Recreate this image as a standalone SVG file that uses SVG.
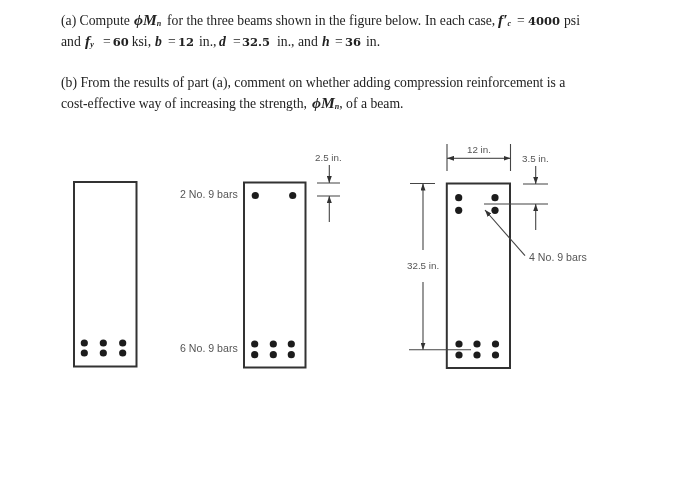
<svg xmlns="http://www.w3.org/2000/svg" width="676" height="497" viewBox="0 0 676 497">
<defs>
<filter id="soft" x="-5%" y="-5%" width="110%" height="110%"><feGaussianBlur stdDeviation="0.4"/></filter>
<marker id="ah" viewBox="0 0 7 5" refX="7" refY="2.5" markerWidth="7" markerHeight="5" orient="auto" markerUnits="userSpaceOnUse"><path d="M0 0L7 2.5L0 5z" fill="#333"/></marker>
</defs>
<style>
.q{font-family:"Liberation Serif",serif;font-size:13.7px;fill:#222}
.m{font-weight:bold;font-style:italic}
.p{font-size:15.5px}
.n{font-family:"DejaVu Serif",serif;font-weight:bold;font-size:11.5px}
.s{font-size:8px;baseline-shift:-1px}
.l{font-family:"Liberation Sans",sans-serif;font-size:10.6px;fill:#555}
.t{font-size:9.8px}
.beam{fill:none;stroke:#333;stroke-width:2}
.bar{fill:#1c1c1c}
.d{fill:none;stroke:#444;stroke-width:1.1}
.a{marker-end:url(#ah)}
</style>
<rect width="676" height="497" fill="#fff"/>
<g filter="url(#soft)">
<g id="problem-text">
<text class="q" y="25"><tspan x="61">(a) Compute</tspan><tspan class="m p" x="134">ϕM</tspan><tspan class="m s">n</tspan><tspan x="167">for the three beams shown in the figure below.</tspan><tspan x="425">In each case,</tspan><tspan class="m p" x="498">f′</tspan><tspan class="m s">c</tspan><tspan x="517">=</tspan><tspan class="n" x="528">4000</tspan><tspan x="564">psi</tspan></text>
<text class="q" y="45.5"><tspan x="61">and</tspan><tspan class="m p" x="85">f</tspan><tspan class="m s">y</tspan><tspan x="103">=</tspan><tspan class="n" x="112.7">60</tspan><tspan x="131.7">ksi,</tspan><tspan class="m" x="155">b</tspan><tspan x="168">=</tspan><tspan class="n" x="178">12</tspan><tspan x="199">in.,</tspan><tspan class="m" x="219">d</tspan><tspan x="233">=</tspan><tspan class="n" x="242">32.5</tspan><tspan x="277">in.,</tspan><tspan x="298">and</tspan><tspan class="m" x="322">h</tspan><tspan x="335">=</tspan><tspan class="n" x="345">36</tspan><tspan x="366">in.</tspan></text>
<text class="q" x="61" y="87">(b) From the results of part (a), comment on whether adding compression reinforcement is a</text>
<text class="q" y="107.5"><tspan x="61">cost-effective way of increasing the strength,</tspan><tspan class="m p" x="312">ϕM</tspan><tspan class="m s">n</tspan><tspan>, of a beam.</tspan></text>
</g>
<g id="beam-1">
<rect class="beam" x="74" y="182" width="62.5" height="184.5"/>
<g class="bar"><circle cx="84.3" cy="343" r="3.6"/><circle cx="103.3" cy="343" r="3.6"/><circle cx="122.7" cy="343" r="3.6"/><circle cx="84.3" cy="353" r="3.6"/><circle cx="103.3" cy="353" r="3.6"/><circle cx="122.7" cy="353" r="3.6"/></g>
</g>
<g id="beam-2">
<rect class="beam" x="244" y="182.5" width="61.5" height="185"/>
<g class="bar"><circle cx="255.3" cy="195.5" r="3.6"/><circle cx="292.7" cy="195.5" r="3.6"/><circle cx="254.7" cy="344" r="3.6"/><circle cx="273.3" cy="344" r="3.6"/><circle cx="291.3" cy="344" r="3.6"/><circle cx="254.7" cy="354.7" r="3.6"/><circle cx="273.3" cy="354.7" r="3.6"/><circle cx="291.3" cy="354.7" r="3.6"/></g>
<text class="l" x="180" y="198">2 No. 9 bars</text>
<text class="l" x="180" y="352">6 No. 9 bars</text>
</g>
<g id="beam-3">
<rect class="beam" x="446.8" y="183.5" width="63.2" height="184.5"/>
<g class="bar"><circle cx="458.7" cy="197.7" r="3.6"/><circle cx="495" cy="197.7" r="3.6"/><circle cx="458.7" cy="210.3" r="3.6"/><circle cx="495" cy="210.3" r="3.6"/><circle cx="459" cy="344" r="3.6"/><circle cx="477" cy="344" r="3.6"/><circle cx="495.5" cy="344" r="3.6"/><circle cx="459" cy="355" r="3.6"/><circle cx="477" cy="355" r="3.6"/><circle cx="495.5" cy="355" r="3.6"/></g>
<text class="l" x="529" y="261">4 No. 9 bars</text>
</g>
<g id="connectors">
<path class="d" d="M317 183H340M317 196H340M447 144V171M510.5 144V171M523 184H548M484 204H548M410 183.5H435M409 349.7H471"/>
<path class="d a" d="M329.3 165V183"/>
<path class="d a" d="M329.3 222V196"/>
<path class="d a" d="M479 158.3H510.5"/>
<path class="d a" d="M479 158.3H447"/>
<path class="d a" d="M535.7 166V184"/>
<path class="d a" d="M535.7 230V204"/>
<path class="d a" d="M423 250V183.5"/>
<path class="d a" d="M423 282V349.7"/>
<path class="d a" d="M525 255.7L485 210"/>
</g>
<g id="dimension-labels">
<text class="l t" x="315" y="161">2.5 in.</text>
<text class="l t" x="467" y="153">12 in.</text>
<text class="l t" x="522" y="162">3.5 in.</text>
<text class="l t" x="407" y="269">32.5 in.</text>
</g>
</g>
</svg>
